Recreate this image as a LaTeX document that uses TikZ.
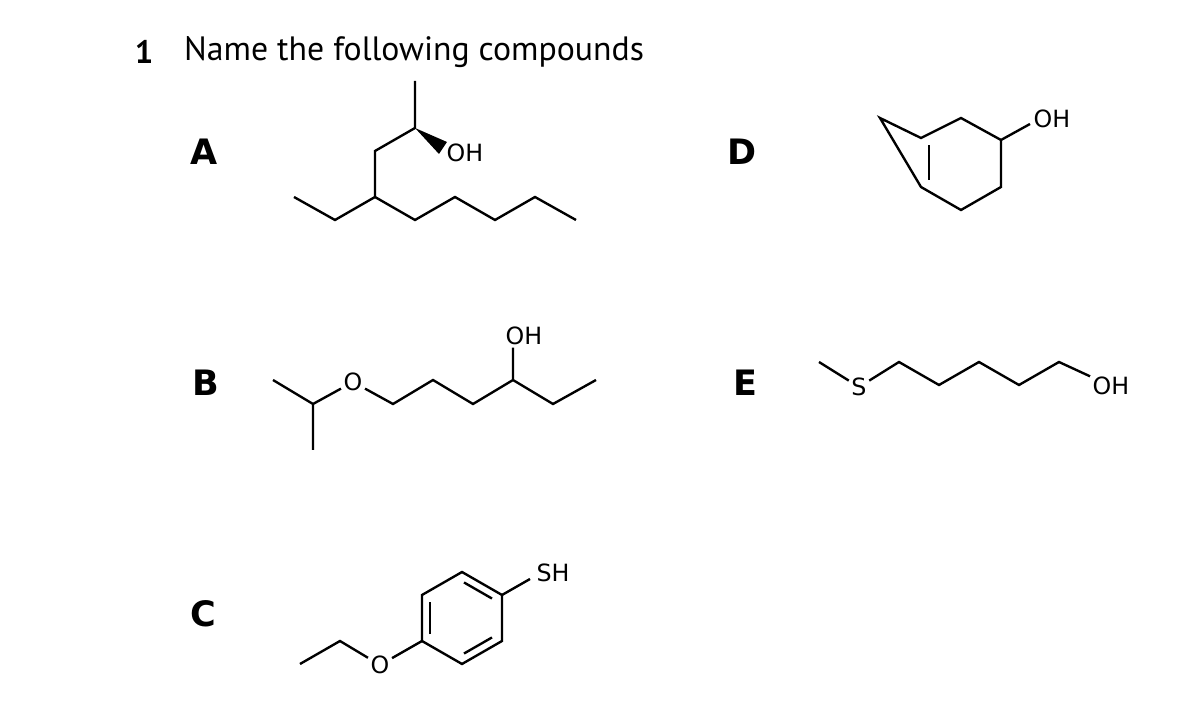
\documentclass[tikz,border=0pt]{standalone}
\usetikzlibrary{calc}
\usepackage{fontspec}
\setmainfont{DejaVu Sans}
\newfontfamily\titlefont{PT Sans}
\begin{document}
\begin{tikzpicture}[x=0.4pt,y=-0.4pt,line width=0.95pt,
 atom/.style={inner sep=0.6pt,font=\fontsize{9.5}{10}\selectfont},
 lbl/.style={font=\bfseries\fontsize{14}{14}\selectfont}]
\useasboundingbox (0,0) rectangle (1202,711);
\node[font=\titlefont\bfseries\fontsize{13}{13}\selectfont] (n1) at (144,52) {1};
\node[font=\titlefont\fontsize{13.5}{14}\selectfont,anchor=west,inner sep=0] (t) at (183,52) {Name the following compounds};
\node[lbl] (la) at (204,152) {A};
\node[lbl] (lb) at (206,383) {B};
\node[lbl] (lc) at (203,614) {C};
\node[lbl] (ld) at (742,152) {D};
\node[lbl] (le) at (745,383) {E};
% A
\foreach \n/\x/\y in {a1/415/81,a2/415/128,a3/375/151,a4/375/197,a5/335/220,a6/294/197,a7/415/220,a8/455/197,a9/495/220,a10/535/197,a11/576/220,aw/443/148}
  \coordinate (\n) at (\x,\y);
\node[atom] (aoh) at (465,153) {OH};
\draw (a1)--(a2)--(a3)--(a4)--(a5)--(a6) (a4)--(a7)--(a8)--(a9)--(a10)--(a11);
\fill (a2) -- ($(aw)+(-4,6)$) -- ($(aw)+(4,-6)$) -- cycle;
% B
\foreach \n/\x/\y in {b1/273/380,b2/313/404,b3/313/450,b4/393/404,b5/433/380,b6/473/404,b7/513/380,b8/553/404,b9/596/380}
  \coordinate (\n) at (\x,\y);
\node[atom] (bo) at (353,382) {O};
\node[atom] (boh) at (524,336) {OH};
\draw (b1)--(b2)--(b3) (b2)--(bo)--(b4)--(b5)--(b6)--(b7)--(b8)--(b9) (b7)--(b7|-boh.south);
% C
\foreach \n/\x/\y in {c1/462/572,c2/502/595,c3/502/641,c4/462/664,c5/422/641,c6/422/595,c7/340/641,c8/300/664,cs/530/579}
  \coordinate (\n) at (\x,\y);
\node[atom] (csh) at (553,573) {SH};
\node[atom] (co) at (380,665) {O};
\draw (c1)--(c2)--(c3)--(c4)--(c5)--(c6)--cycle;
\draw (c2)--(cs);
\draw (c5)--(co)--(c7)--(c8);
\draw ($(c1)!0.15!(c2)+(-4,7)$)--($(c1)!0.85!(c2)+(-4,7)$);
\draw ($(c3)!0.15!(c4)+(-4,-7)$)--($(c3)!0.85!(c4)+(-4,-7)$);
\draw ($(c5)!0.15!(c6)+(8,0)$)--($(c5)!0.85!(c6)+(8,0)$);
% D
\foreach \n/\x/\y in {d0/880/118,d1/921/138,d2/961/118,d3/1001/140,d4/1001/187,d5/961/210,d6/921/187,dx/1030/124}
  \coordinate (\n) at (\x,\y);
\node[atom] (doh) at (1052,119) {OH};
\draw (d0)--(d1)--(d2)--(d3)--(d4)--(d5)--(d6)--cycle (d3)--(dx);
\draw ($(d1)!0.15!(d6)+(8,0)$)--($(d1)!0.85!(d6)+(8,0)$);
% E
\foreach \n/\x/\y in {e1/819/362,e2/899/362,e3/939/385,e4/979/362,e5/1019/385,e6/1059/362}
  \coordinate (\n) at (\x,\y);
\node[atom] (es) at (859,387) {S};
\node[atom] (eoh) at (1111,386) {OH};
\draw (e1)--(es)--(e2)--(e3)--(e4)--(e5)--(e6)--(eoh);
\end{tikzpicture}
\end{document}
